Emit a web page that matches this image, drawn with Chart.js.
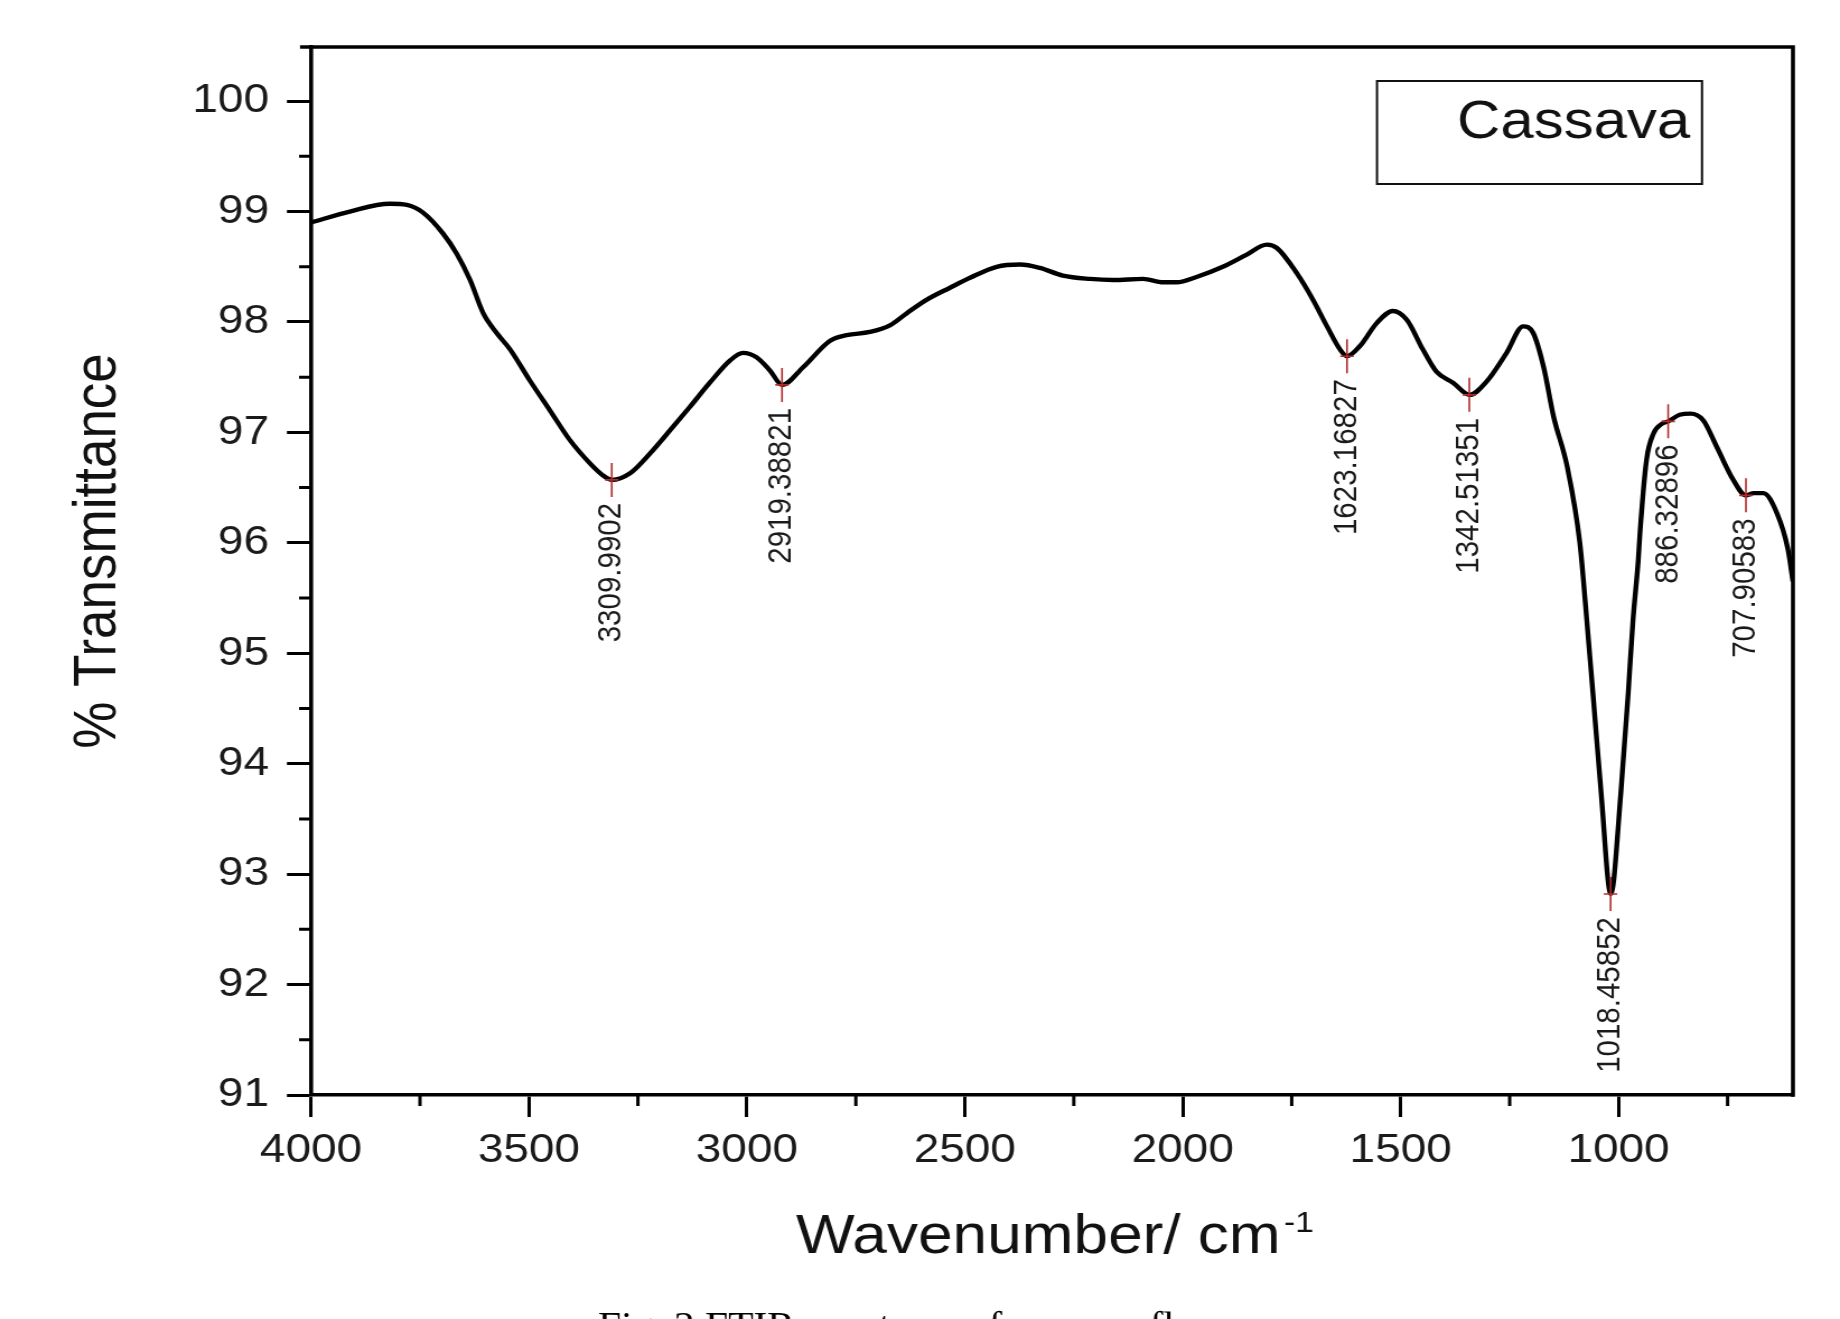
<!DOCTYPE html>
<html><head><meta charset="utf-8">
<script src="https://cdn.jsdelivr.net/npm/chart.js@4.4.1/dist/chart.umd.min.js"></script>
<style>
html,body{margin:0;padding:0;background:#fff;overflow:hidden;}
#wrap{position:absolute;left:0;top:0;width:1643px;height:1319px;transform:scaleX(1.11990);transform-origin:0 0;}
canvas{display:block;}
</style></head><body>
<div id="wrap"><canvas id="c" width="1643" height="1319"></canvas></div>
<script>
// ---- data ----
const wavenumbers = [4000,3911,3819,3780,3743,3697,3666,3635,3605,3574,3543,3498,3452,3406,3360,3330,3310,3268,3222,3176,3131,3085,3039,3009,2978,2947,2919,2871,2809,2771,2718,2672,2633,2588,2534,2488,2427,2373,2328,2275,2213,2160,2091,2045,2014,1967,1908,1853,1807,1784,1738,1701,1669,1639,1623,1594,1555,1518,1486,1449,1418,1380,1342,1303,1257,1219,1196,1172,1149,1118,1089,1073,1059,1040,1018,995,978,967,955,951,936,920,900,886,860,835,806,775,737,708,690,668,637,612,600];
const transmittance = [98.90,99.00,99.07,99.06,98.99,98.80,98.62,98.38,98.08,97.90,97.75,97.47,97.20,96.93,96.72,96.61,96.57,96.63,96.81,97.02,97.23,97.45,97.65,97.72,97.68,97.56,97.43,97.59,97.83,97.88,97.91,97.97,98.08,98.20,98.31,98.40,98.50,98.52,98.49,98.42,98.39,98.38,98.39,98.36,98.36,98.41,98.50,98.61,98.70,98.67,98.44,98.20,97.96,97.75,97.69,97.78,97.99,98.10,98.02,97.75,97.55,97.45,97.34,97.46,97.72,97.96,97.90,97.59,97.14,96.69,96.00,95.30,94.64,93.73,92.82,93.73,94.64,95.30,95.84,96.09,96.75,96.99,97.08,97.10,97.16,97.17,97.11,96.87,96.57,96.43,96.45,96.45,96.27,95.95,95.65];
const peakWavenumbers = [3309.9902,2919.38821,1623.16827,1342.51351,1018.45852,886.32896,707.90583];
const peakTransmittance = [96.57,97.43,97.69,97.34,92.82,97.10,96.43];
const peakLabels = ["3309.9902","2919.38821","1623.16827","1342.51351","1018.45852","886.32896","707.90583"];
const xTickValues = [4000,3500,3000,2500,2000,1500,1000];
const xMinorTickValues = [3750,3250,2750,2250,1750,1250,750];
const yTickValues = [91,92,93,94,95,96,97,98,99,100];
const yMinorTickValues = [91.5,92.5,93.5,94.5,95.5,96.5,97.5,98.5,99.5];
const seriesName = "Cassava";
const xTitle = "Wavenumber/ cm";
const xTitleSup = "-1";
const yTitle = "% Transmittance";
const caption = "Fig. 3 FTIR spectrum of cassava flour";

const S = 1840/1643;           // horizontal stretch of the page
const SANS = "'Liberation Sans', Arial, sans-serif";
const SERIF = "'Liberation Serif', 'Times New Roman', serif";

const decor = {
  id: 'decor',
  afterDraw(chart) {
    const ctx = chart.ctx, a = chart.chartArea;
    const xs = chart.scales.x, ys = chart.scales.y;
    ctx.save();
    // frame top & right
    ctx.strokeStyle = '#000'; ctx.lineWidth = 3.6; ctx.lineCap = 'square';
    ctx.beginPath();
    ctx.moveTo(a.left - 8, a.top); ctx.lineTo(a.right, a.top); ctx.lineTo(a.right, a.bottom);
    ctx.stroke();
    // minor ticks
    ctx.lineWidth = 3; ctx.lineCap = 'butt';
    ctx.beginPath();
    xMinorTickValues.forEach(v => { const x = xs.getPixelForValue(v); ctx.moveTo(x, a.bottom); ctx.lineTo(x, a.bottom + 11); });
    yMinorTickValues.forEach(v => { const y = ys.getPixelForValue(v); ctx.moveTo(a.left, y); ctx.lineTo(a.left - 10.7, y); });
    ctx.stroke();
    // peak markers and labels
    peakWavenumbers.forEach((w, i) => {
      const x = xs.getPixelForValue(w), y = ys.getPixelForValue(peakTransmittance[i]);
      ctx.strokeStyle = '#b42a2a'; ctx.lineWidth = 1.6;
      ctx.beginPath();
      ctx.moveTo(x, y - 17); ctx.lineTo(x, y + 17);
      ctx.moveTo(x - 6, y); ctx.lineTo(x + 6, y);
      ctx.stroke();
      ctx.save();
      ctx.translate(x, y + 23);
      ctx.rotate(-Math.PI / 2);
      ctx.fillStyle = '#1a1a1a';
      ctx.font = '29.5px ' + SANS;
      ctx.textAlign = 'right'; ctx.textBaseline = 'middle';
      ctx.fillText(peakLabels[i], 0, 0);
      ctx.restore();
    });
    // y title
    ctx.save();
    ctx.translate(88, 551);
    ctx.rotate(-Math.PI / 2);
    ctx.fillStyle = '#111'; ctx.font = '53px ' + SANS;
    ctx.textAlign = 'center'; ctx.textBaseline = 'middle';
    ctx.fillText(yTitle, 0, 0);
    ctx.restore();
    // x title with superscript
    ctx.fillStyle = '#111'; ctx.font = '55.5px ' + SANS;
    ctx.textAlign = 'left'; ctx.textBaseline = 'alphabetic';
    const tx = 796 / S, tw = ctx.measureText(xTitle).width;
    ctx.fillText(xTitle, tx, 1253);
    ctx.font = '30px ' + SANS;
    ctx.fillText(xTitleSup, tx + tw + 3, 1232);
    // legend box
    ctx.strokeStyle = '#111'; ctx.lineWidth = 2;
    ctx.strokeRect(1377 / S, 81, (1702 - 1377) / S, 103);
    ctx.fillStyle = '#111'; ctx.font = '53.5px ' + SANS;
    ctx.fillText(chart.data.datasets[0].label, 1457 / S, 138);
    // caption
    ctx.fillStyle = '#000'; ctx.font = '37px ' + SERIF;
    ctx.fillText(caption, 598 / S, 1338);
    ctx.restore();
  }
};

new Chart(document.getElementById('c'), {
  type: 'line',
  data: {
    datasets: [{
      label: seriesName,
      data: wavenumbers.map((w, i) => ({ x: w, y: transmittance[i] })),
      borderColor: '#000', borderWidth: 4.4, pointRadius: 0,
      cubicInterpolationMode: 'monotone', fill: false
    }]
  },
  options: {
    responsive: false, animation: false, devicePixelRatio: 1,
    layout: { padding: { top: 47, right: 42, left: 0, bottom: 0 } },
    plugins: { legend: { display: false }, tooltip: { enabled: false } },
    scales: {
      x: {
        type: 'linear', reverse: true, min: 600, max: 4000,
        afterBuildTicks: s => { s.ticks = xTickValues.map(v => ({ value: v })); },
        afterFit: s => { s.height = 224; },
        ticks: { autoSkip: false, maxRotation: 0, padding: 9, color: '#1a1a1a', font: { family: SANS, size: 41 }, callback: v => String(v) },
        grid: { display: true, drawOnChartArea: false, drawTicks: true, tickLength: 22, tickWidth: 3, tickColor: '#000', color: '#000' },
        border: { display: true, color: '#000', width: 3.6 }
      },
      y: {
        type: 'linear', min: 91, max: 100.49,
        afterBuildTicks: s => { s.ticks = yTickValues.map(v => ({ value: v })); },
        afterFit: s => { s.width = 277.7; },
        ticks: { padding: 16, color: '#1a1a1a', font: { family: SANS, size: 41 }, callback: v => String(v) },
        grid: { display: true, drawOnChartArea: false, drawTicks: true, tickLength: 21.5, tickWidth: 3, tickColor: '#000', color: '#000' },
        border: { display: true, color: '#000', width: 3.6 }
      }
    }
  },
  plugins: [decor]
});
</script>
</body></html>
